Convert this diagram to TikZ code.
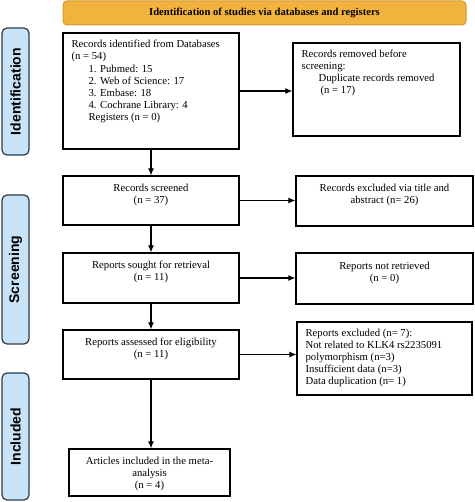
\documentclass[tikz,border=0pt]{standalone}
\usepackage{fontspec}
\setmainfont{Liberation Serif}
\newfontfamily\sidefont{Liberation Sans}
\usetikzlibrary{positioning}
\usetikzlibrary{arrows.meta}
\definecolor{barorange}{HTML}{F2B33E}
\definecolor{barline}{HTML}{D49A2E}
\definecolor{sideblue}{HTML}{C8E2F7}
\definecolor{sideline}{HTML}{2E3A46}
\tikzset{x=1pt, y=-1pt,
    box/.style={
        draw,
        line width=1.2pt,
        inner sep=0pt},
    boxtext/.style={
        inner sep=0pt,
        font=\fontsize{10.7}{12.2}\selectfont},
    stage/.style={
        draw=sideline,
        fill=sideblue,
        line width=1.2pt,
        rounded corners=5pt,
        rotate=90,
        minimum height=27pt,
        inner sep=0pt,
        font=\sidefont\bfseries\fontsize{14}{14}\selectfont},
    every edge/.style={
        draw,
        ->,>={Latex[length=7pt,width=6pt]},
        line width=1.1pt}}

\begin{document}
\begin{tikzpicture}
    \useasboundingbox (0,0) rectangle (474,502);

    \node[draw=barline, fill=barorange, line width=1pt, rounded corners=4pt,
        minimum width=403pt, minimum height=24pt,
        font=\bfseries\fontsize{10.6}{12}\selectfont] (head) at (264.5,13)
        {Identification of studies via databases and registers};

    \node[stage, minimum width=127pt] (ident) at (15.5,91.5) {Identification};
    \node[stage, minimum width=149pt] (screen) at (15.5,269.5) {Screening};
    \node[stage, minimum width=127pt] (incl) at (15.5,436.5) {Included};

    \node[box, minimum width=176pt, minimum height=116pt] (found) at (151,91) {};
    \node[box, minimum width=167pt, minimum height=93pt] (removed) at (376.5,89.5) {};
    \node[box, minimum width=176pt, minimum height=49pt] (screened) at (151,200.5) {};
    \node[box, minimum width=177pt, minimum height=50pt] (excl1) at (384.5,201) {};
    \node[box, minimum width=176pt, minimum height=50pt] (sought) at (151,278) {};
    \node[box, minimum width=177pt, minimum height=51pt] (notretr) at (384.5,278.5) {};
    \node[box, minimum width=176pt, minimum height=49pt] (assessed) at (151,354.5) {};
    \node[box, minimum width=175pt, minimum height=73pt] (excl2) at (384.5,358.5) {};
    \node[box, minimum width=161pt, minimum height=47pt] (articles) at (149.5,472.5) {};

    \node[boxtext, align=left, anchor=north west, below right=7.5pt and 9pt of found.north west] (foundtxt)
        {Records identified from Databases\\(n = 54)\\
        \hspace*{17pt}1. Pubmed: 15\\\hspace*{17pt}2. Web of Science: 17\\
        \hspace*{17pt}3. Embase: 18\\\hspace*{17pt}4. Cochrane Library: 4\\
        \hspace*{17pt}Registers (n = 0)};
    \node[boxtext, align=left, anchor=north west, below right=7pt and 9pt of removed.north west] (removedtxt)
        {Records removed before\\screening:\\
        \hspace*{17pt}Duplicate records removed\\\hspace*{19pt}(n = 17)};
    \node[boxtext, align=center, anchor=north, below=8pt of screened.north] (screenedtxt)
        {Records screened\\(n = 37)};
    \node[boxtext, align=center, anchor=north, below=8pt of excl1.north] (excl1txt)
        {Records excluded via title and\\abstract (n= 26)};
    \node[boxtext, align=center, anchor=north, below=8pt of sought.north] (soughttxt)
        {Reports sought for retrieval\\(n = 11)};
    \node[boxtext, align=center, anchor=north, below=9.5pt of notretr.north] (notretrtxt)
        {Reports not retrieved\\(n = 0)};
    \node[boxtext, align=center, anchor=north, below=8pt of assessed.north] (assessedtxt)
        {Reports assessed for eligibility\\(n = 11)};
    \node[boxtext, align=left, anchor=north west, below right=7pt and 9pt of excl2.north west] (excl2txt)
        {Reports excluded (n= 7):\\Not related to KLK4 rs2235091\\polymorphism (n=3)\\
        Insufficient data (n=3)\\Data duplication (n= 1)};
    \node[boxtext, align=center, anchor=north, below=8pt of articles.north] (articlestxt)
        {Articles included in the meta-\\analysis\\(n = 4)};

    \path (found) edge (screened)
          (screened) edge (sought)
          (sought) edge (assessed)
          (assessed.south) edge (assessed.south |- articles.north)
          (found.east) edge (found.east -| removed.west)
          (screened.east) edge (screened.east -| excl1.west)
          (sought.east) edge (sought.east -| notretr.west)
          (assessed.east) edge (assessed.east -| excl2.west);
\end{tikzpicture}
\end{document}
